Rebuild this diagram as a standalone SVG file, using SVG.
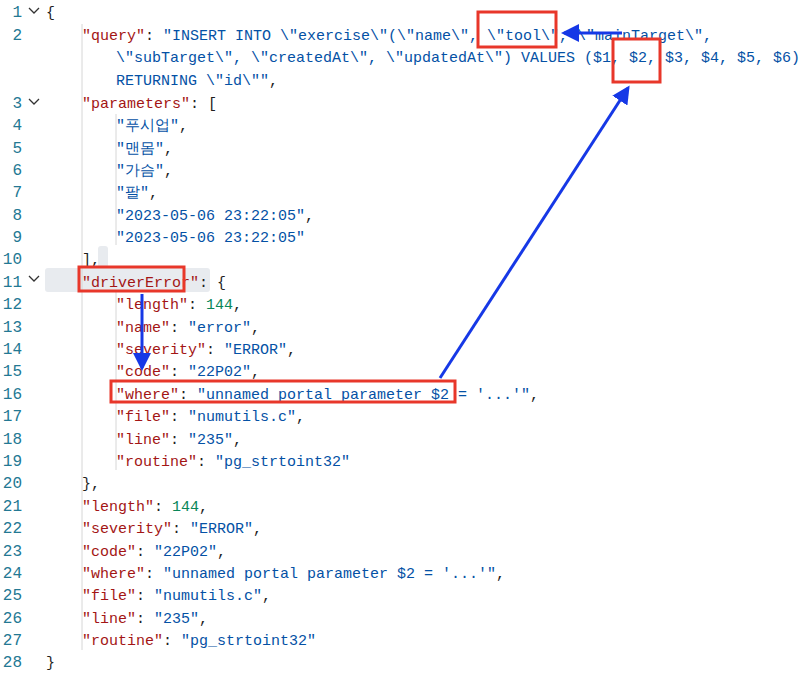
<svg xmlns="http://www.w3.org/2000/svg" width="800" height="680" viewBox="0 0 800 680">
<style>
text{font-family:"Liberation Mono","DejaVu Sans Mono",monospace;font-size:15px;fill:#1f1f1f}
.n{fill:#237893;text-anchor:end;font-size:16px}
.k{fill:#a31515}.s{fill:#0451a5}.g{fill:#098658}
.box{fill:none;stroke:#e8372a;stroke-width:3}
.ar{stroke:#1638e6;stroke-width:3;fill:none}
.gd{stroke:#d6d6d6;stroke-width:1}
.chev{fill:none;stroke:#333;stroke-width:1.3}
</style>
<defs><marker id="ah" markerWidth="6" markerHeight="6" refX="5" refY="3" orient="auto" markerUnits="strokeWidth"><path d="M0,0L6,3L0,6z" fill="#1638e6"/></marker></defs>
<rect width="800" height="680" fill="#fff"/>
<rect x="45" y="268" width="165" height="24" rx="3" fill="#e8ebef"/>
<rect x="98" y="246" width="10" height="22" rx="3" fill="#e8ebef"/>
<g id="guides">
<line class="gd" x1="82" y1="24" x2="82" y2="650"/>
<line class="gd" x1="116" y1="114" x2="116" y2="245"/>
<line class="gd" x1="116" y1="292" x2="116" y2="470"/>
</g>
<g id="chevrons">
<path class="chev" d="M29,8l5,5l5,-5"/><path class="chev" d="M29,99l5,5l5,-5"/><path class="chev" d="M29,276l5,5l5,-5"/>
</g>
<g id="linenums">
<text class="n" x="22" y="17">1</text><text class="n" x="22" y="40">2</text><text class="n" x="22" y="108">3</text><text class="n" x="22" y="130">4</text><text class="n" x="22" y="153">5</text><text class="n" x="22" y="175">6</text><text class="n" x="22" y="197">7</text><text class="n" x="22" y="220">8</text><text class="n" x="22" y="242">9</text><text class="n" x="22" y="264">10</text><text class="n" x="22" y="287">11</text><text class="n" x="22" y="309">12</text><text class="n" x="22" y="332">13</text><text class="n" x="22" y="354">14</text><text class="n" x="22" y="376">15</text><text class="n" x="22" y="399">16</text><text class="n" x="22" y="421">17</text><text class="n" x="22" y="444">18</text><text class="n" x="22" y="466">19</text><text class="n" x="22" y="488">20</text><text class="n" x="22" y="511">21</text><text class="n" x="22" y="533">22</text><text class="n" x="22" y="556">23</text><text class="n" x="22" y="578">24</text><text class="n" x="22" y="600">25</text><text class="n" x="22" y="623">26</text><text class="n" x="22" y="645">27</text><text class="n" x="22" y="667">28</text>
</g>
<g id="code">
<text x="46" y="17">{</text>
<text x="82" y="40" xml:space="preserve"><tspan class="k">"query"</tspan>: <tspan class="s">"INSERT INTO \"exercise\"(\"name\", \"tool\", \"mainTarget\",</tspan></text>
<text x="116" y="62" class="s" xml:space="preserve">\"subTarget\", \"createdAt\", \"updatedAt\") VALUES ($1, $2, $3, $4, $5, $6)</text>
<text x="116" y="85" class="s" xml:space="preserve">RETURNING \"id\""<tspan fill="#1f1f1f">,</tspan></text>
<text x="82" y="108"><tspan class="k">"parameters"</tspan>: [</text>
<text x="116" y="130"><tspan class="s">"푸시업"</tspan>,</text>
<text x="116" y="153"><tspan class="s">"맨몸"</tspan>,</text>
<text x="116" y="175"><tspan class="s">"가슴"</tspan>,</text>
<text x="116" y="197"><tspan class="s">"팔"</tspan>,</text>
<text x="116" y="220"><tspan class="s">"2023-05-06 23:22:05"</tspan>,</text>
<text x="116" y="242" class="s">"2023-05-06 23:22:05"</text>
<text x="82" y="264">],</text>
<text x="82" y="287"><tspan class="k">"driverError"</tspan>: {</text>
<text x="116" y="309"><tspan class="k">"length"</tspan>: <tspan class="g">144</tspan>,</text>
<text x="116" y="332"><tspan class="k">"name"</tspan>: <tspan class="s">"error"</tspan>,</text>
<text x="116" y="354"><tspan class="k">"severity"</tspan>: <tspan class="s">"ERROR"</tspan>,</text>
<text x="116" y="376"><tspan class="k">"code"</tspan>: <tspan class="s">"22P02"</tspan>,</text>
<text x="116" y="399"><tspan class="k">"where"</tspan>: <tspan class="s">"unnamed portal parameter $2 = '...'"</tspan>,</text>
<text x="116" y="421"><tspan class="k">"file"</tspan>: <tspan class="s">"numutils.c"</tspan>,</text>
<text x="116" y="444"><tspan class="k">"line"</tspan>: <tspan class="s">"235"</tspan>,</text>
<text x="116" y="466"><tspan class="k">"routine"</tspan>: <tspan class="s">"pg_strtoint32"</tspan></text>
<text x="82" y="488">},</text>
<text x="82" y="511"><tspan class="k">"length"</tspan>: <tspan class="g">144</tspan>,</text>
<text x="82" y="533"><tspan class="k">"severity"</tspan>: <tspan class="s">"ERROR"</tspan>,</text>
<text x="82" y="556"><tspan class="k">"code"</tspan>: <tspan class="s">"22P02"</tspan>,</text>
<text x="82" y="578"><tspan class="k">"where"</tspan>: <tspan class="s">"unnamed portal parameter $2 = '...'"</tspan>,</text>
<text x="82" y="600"><tspan class="k">"file"</tspan>: <tspan class="s">"numutils.c"</tspan>,</text>
<text x="82" y="623"><tspan class="k">"line"</tspan>: <tspan class="s">"235"</tspan>,</text>
<text x="82" y="645"><tspan class="k">"routine"</tspan>: <tspan class="s">"pg_strtoint32"</tspan></text>
<text x="46" y="667">}</text>
</g>
<g id="boxes">
<rect id="tool" class="box" x="478" y="12" width="78" height="35"/>
<rect id="p2" class="box" x="613" y="39" width="47" height="43"/>
<rect id="driverError" class="box" x="79" y="267" width="105" height="24"/>
<rect id="where" class="box" x="111" y="381" width="344" height="21"/>
</g>
<g id="connectors">
<path class="ar" d="M622,33L564,33" marker-end="url(#ah)"/>
<path class="ar" d="M440,378L628,88" marker-end="url(#ah)"/>
<path class="ar" d="M142,294L142,368" marker-end="url(#ah)"/>
</g>
</svg>
